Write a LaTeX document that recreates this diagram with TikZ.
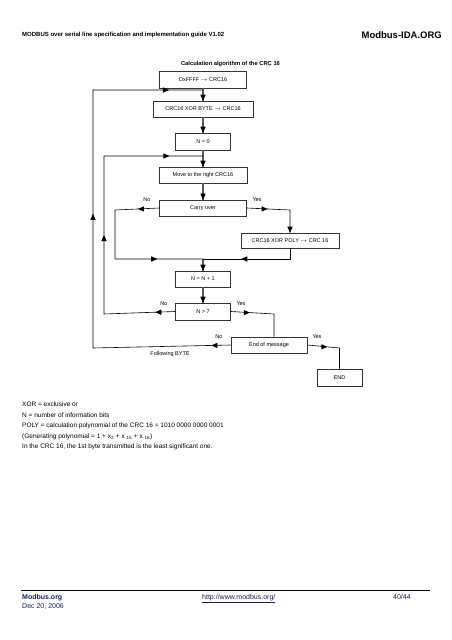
\documentclass[tikz,border=0pt]{standalone}
\usepackage{fontspec}
\setmainfont{Liberation Sans}
\usetikzlibrary{calc}
\definecolor{footblue}{RGB}{28,28,95}
\begin{document}
\begin{tikzpicture}[x=1pt,y=-1pt,
  box/.style={draw=black!80, line width=0.6pt, inner sep=0pt, fill=white, font=\fontsize{5.5}{6}\selectfont},
  conn/.style={line width=0.6pt, black},
  mainconn/.style={line width=1.1pt, black!65},
  arR/.pic={\fill[black] (0,0) -- (-6,-2.7) -- (-6,2.7) -- cycle;},
  arL/.pic={\fill[black] (0,0) -- (6,-2.7) -- (6,2.7) -- cycle;},
  arU/.pic={\fill[black] (0,0) -- (-2.7,6) -- (2.7,6) -- cycle;},
  arD/.pic={\fill[black] (0,0) -- (-2.7,-6) -- (2.7,-6) -- cycle;},
  lbl/.style={font=\fontsize{5.5}{6}\selectfont, inner sep=0pt},
  note/.style={font=\fontsize{6.5}{7}\selectfont, anchor=west, inner sep=0pt},
  foot/.style={font=\fontsize{7}{8}\selectfont, text=footblue, anchor=base west, inner sep=0pt}]
\fill[white] (0,0) rectangle (452,640);
\useasboundingbox (0,0) rectangle (452,640);

% header
\node[font=\bfseries\fontsize{6}{7}\selectfont, anchor=west, inner sep=0pt] (hdr) at (22,35) {MODBUS over serial line specification and implementation guide V1.02};
\node[font=\bfseries\fontsize{9.5}{10}\selectfont, anchor=east, inner sep=0pt] (org) at (442,35) {Modbus-IDA.ORG};
\node[font=\bfseries\fontsize{5.8}{6}\selectfont, inner sep=0pt] (title) at (230.5,64) {Calculation algorithm of the CRC 16};

% boxes
\node[box, minimum width=87pt, minimum height=17pt] (init) at (203,79.5) {OxFFFF $\rightarrow$ CRC16};
\node[box, minimum width=100pt, minimum height=16pt] (xorbyte) at (203,109) {CRC16 XOR BYTE $\rightarrow$ CRC16};
\node[box, minimum width=55pt, minimum height=17pt] (n0) at (203,141.5) {N = 0};
\node[box, minimum width=88pt, minimum height=16pt] (move) at (203,175) {Move to the right CRC16};
\node[box, minimum width=87pt, minimum height=16pt] (carry) at (203,208) {Carry over};
\node[box, minimum width=98pt, minimum height=15pt] (poly) at (290,240.5) {CRC16 XOR POLY $\rightarrow$ CRC 16};
\node[box, minimum width=55pt, minimum height=16pt] (nn1) at (203,279) {N = N + 1};
\node[box, minimum width=55pt, minimum height=17pt] (n7) at (203,311.5) {N > 7};
\node[box, minimum width=76pt, minimum height=16pt] (eom) at (269,345) {End of message};
\node[box, minimum width=45pt, minimum height=17pt] (end) at (339.5,377.5) {END};

% junctions
\coordinate (j1) at (203,90);
\coordinate (j2) at (203,156);
\coordinate (j3) at (203,259);
\coordinate (o1) at (93,348);
\coordinate (o2) at (93,90);
\coordinate (i1) at (104,314);
\coordinate (i2) at (104,156);
\coordinate (c1) at (115,210);
\coordinate (c2) at (115,259);
\coordinate (c3) at (290,210);
\coordinate (c4) at (290,259);
\coordinate (y1) at (274,314);
\coordinate (e1) at (339.5,348);

% main line
\draw[mainconn] (init.south) -- (j1) -- (xorbyte.north);
\pic at (xorbyte.north) {arD};
\draw[mainconn] (xorbyte.south) -- (n0.north);
\pic at (n0.north) {arD};
\draw[mainconn] (n0.south) -- (j2) -- (move.north);
\pic at (move.north) {arD};
\draw[mainconn] (move.south) -- (carry.north);
\pic at (carry.north) {arD};
\draw[mainconn] (j3) -- (nn1.north);
\pic at (nn1.north) {arD};
\draw[mainconn] (nn1.south) -- (n7.north);
\pic at (n7.north) {arD};

% outer loop (following byte)
\draw[conn] (eom.west) -- (o1) -- (o2) -- (j1);
\pic at ($(eom.west)!0.14!(o1)$) {arL};
\pic at ($(o1)!0.52!(o2)$) {arU};
\pic at ($(o2)!0.69!(j1)$) {arR};

% inner loop (N <= 7)
\draw[conn] (n7.west) -- (i1) -- (i2) -- (j2);
\pic at ($(n7.west)!0.28!(i1)$) {arL};
\pic at ($(i1)!0.5!(i2)$) {arU};
\pic at ($(i2)!0.66!(j2)$) {arR};

% carry over branches
\draw[conn] (carry.west) -- (c1) -- (c2) -- (j3);
\pic at ($(carry.west)!0.48!(c1)$) {arL};
\pic at ($(c2)!0.48!(j3)$) {arR};
\draw[conn] (carry.east) -- (c3) -- (poly.north);
\pic at ($(carry.east)!0.48!(c3)$) {arR};
\pic at (poly.north) {arD};
\draw[conn] (poly.south) -- (c4) -- (j3);
\pic at ($(c4)!0.56!(j3)$) {arL};

% N > 7 yes
\draw[conn] (n7.east) -- (y1) -- (y1 |- eom.north);
\pic at ($(n7.east)!0.44!(y1)$) {arR};

% end of message yes
\draw[conn] (eom.east) -- (e1) -- (end.north);
\pic at ($(eom.east)!0.62!(e1)$) {arR};

% labels
\node[lbl] (lno1) at (147,200) {No};
\node[lbl] (lyes1) at (257,200) {Yes};
\node[lbl] (lno2) at (164,304) {No};
\node[lbl] (lyes2) at (241,304) {Yes};
\node[lbl] (lno3) at (219,337) {No};
\node[lbl] (lyes3) at (317,337) {Yes};
\node[lbl] (lfb) at (170,354) {Following BYTE};

% notes
\node[note] (t1) at (22,404) {XOR = exclusive or};
\node[note] (t2) at (22,415) {N = number of information bits};
\node[note] (t3) at (22,426) {POLY = calculation polynomial of the CRC 16 = 1010 0000 0000 0001};
\node[note] (t4) at (22,437) {(Generating polynomial = 1 + x\textsubscript{2} + x \textsubscript{15} + x \textsubscript{16})};
\node[note] (t5) at (22,447) {In the CRC 16, the 1st byte transmitted is the least significant one.};

% footer
\coordinate (fl) at (21,590);
\coordinate (fr) at (430,590);
\draw[line width=0.8pt] (fl) -- (fr);
\node[foot, font=\bfseries\fontsize{7}{8}\selectfont] (f1) at (22,599) {Modbus.org};
\node[foot] (f2) at (22,608) {Dec 20, 2006};
\node[foot] (f3) at (202,599) {\underline{http://www.modbus.org/}};
\node[foot] (f4) at (393,599) {40/44};
\end{tikzpicture}
\end{document}
